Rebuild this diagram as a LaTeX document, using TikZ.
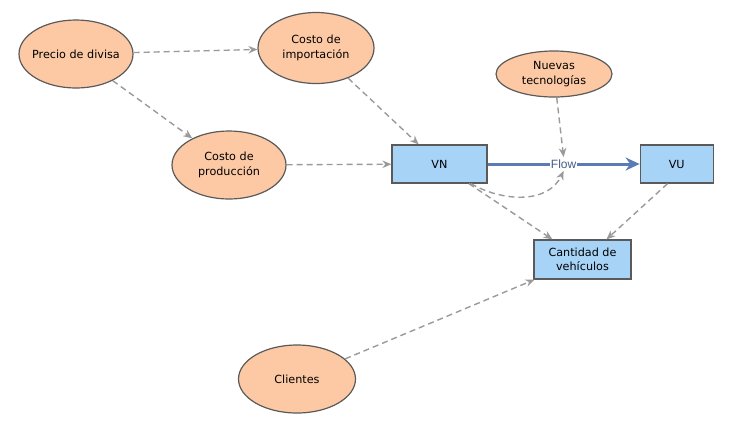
\documentclass[tikz,border=0pt]{standalone}
\usepackage{fontspec}
\setmainfont{DejaVu Sans}
\newfontfamily\flowfont{Liberation Sans}
\usepackage{tikz}
\usepackage{xcolor}
\usetikzlibrary{positioning}
\usetikzlibrary{shapes.geometric}
\usetikzlibrary{arrows.meta}

\definecolor{peach}{HTML}{FDC9A4}
\definecolor{skyfill}{HTML}{A7D3F7}
\definecolor{edgegray}{HTML}{5A5A5A}
\definecolor{linkgray}{HTML}{9A9A9A}
\definecolor{flowblue}{HTML}{5B7BB5}

\begin{document}
\begin{tikzpicture}
[
x=1pt, y=-1pt,
font=\fontsize{11.2}{14.5}\selectfont,
>={Stealth[length=9pt,width=7.5pt]},
var-a/.style={ellipse, draw=edgegray, line width=1.2pt, fill=peach, align=center, inner sep=0pt, minimum width=114pt, minimum height=68pt},
var-b/.style={var-a, minimum width=116pt, minimum height=46pt},
box-a/.style={rectangle, draw=edgegray, line width=1.2pt, fill=skyfill, align=center, inner sep=0pt, minimum height=38pt},
link-a/.style={draw=linkgray, line width=1.4pt, dash pattern=on 6pt off 4pt, ->},
flow-a/.style={draw=flowblue, line width=3pt, ->, >={Stealth[length=14pt,width=13pt]}},
text-a/.style={font=\flowfont\fontsize{12}{13}\selectfont, text=flowblue!75!black, fill=white, inner sep=1pt}
]
\useasboundingbox (0,0) rectangle (754,424);
\node (precio)    [var-a, inner xsep=-12pt] at (76,54) {Precio de divisa};
\node (costo-imp) [var-a, minimum width=116pt, minimum height=71pt] at (316,48) {Costo de\\importación};
\node (costo-pro) [var-a] at (229,165)  {Costo de\\producción};
\node (nuevas)    [var-b, inner ysep=-6pt] at (554,74) {Nuevas\\tecnologías};
\node (clientes)  [var-a, minimum width=117pt] at (297,379) {Clientes};
\node (vn)        [box-a, minimum width=95pt] at (439.5,164) {VN};
\node (vu)        [box-a, minimum width=73pt, right = 152pt of vn] {VU};
\node (cantidad)  [box-a, minimum width=97pt, minimum height=39pt] at (582.5,259.5) {Cantidad de\\vehículos};
\draw [flow-a] (vn) -- node (flow) [text-a] {Flow} (vu);
\draw [link-a] (precio) -- (costo-imp);
\draw [link-a] (precio) -- (costo-pro);
\draw [link-a] (costo-imp) -- (vn);
\draw [link-a] (costo-pro) -- (vn);
\draw [link-a] (nuevas) -- (flow.north);
\draw [link-a] (vn.-32) to[out=-30, in=-115] (flow.south);
\draw [link-a] (vn) -- (cantidad);
\draw [link-a] (vu.-115) -- (cantidad.40);
\draw [link-a] (clientes) -- (cantidad);
\end{tikzpicture}
\end{document}
